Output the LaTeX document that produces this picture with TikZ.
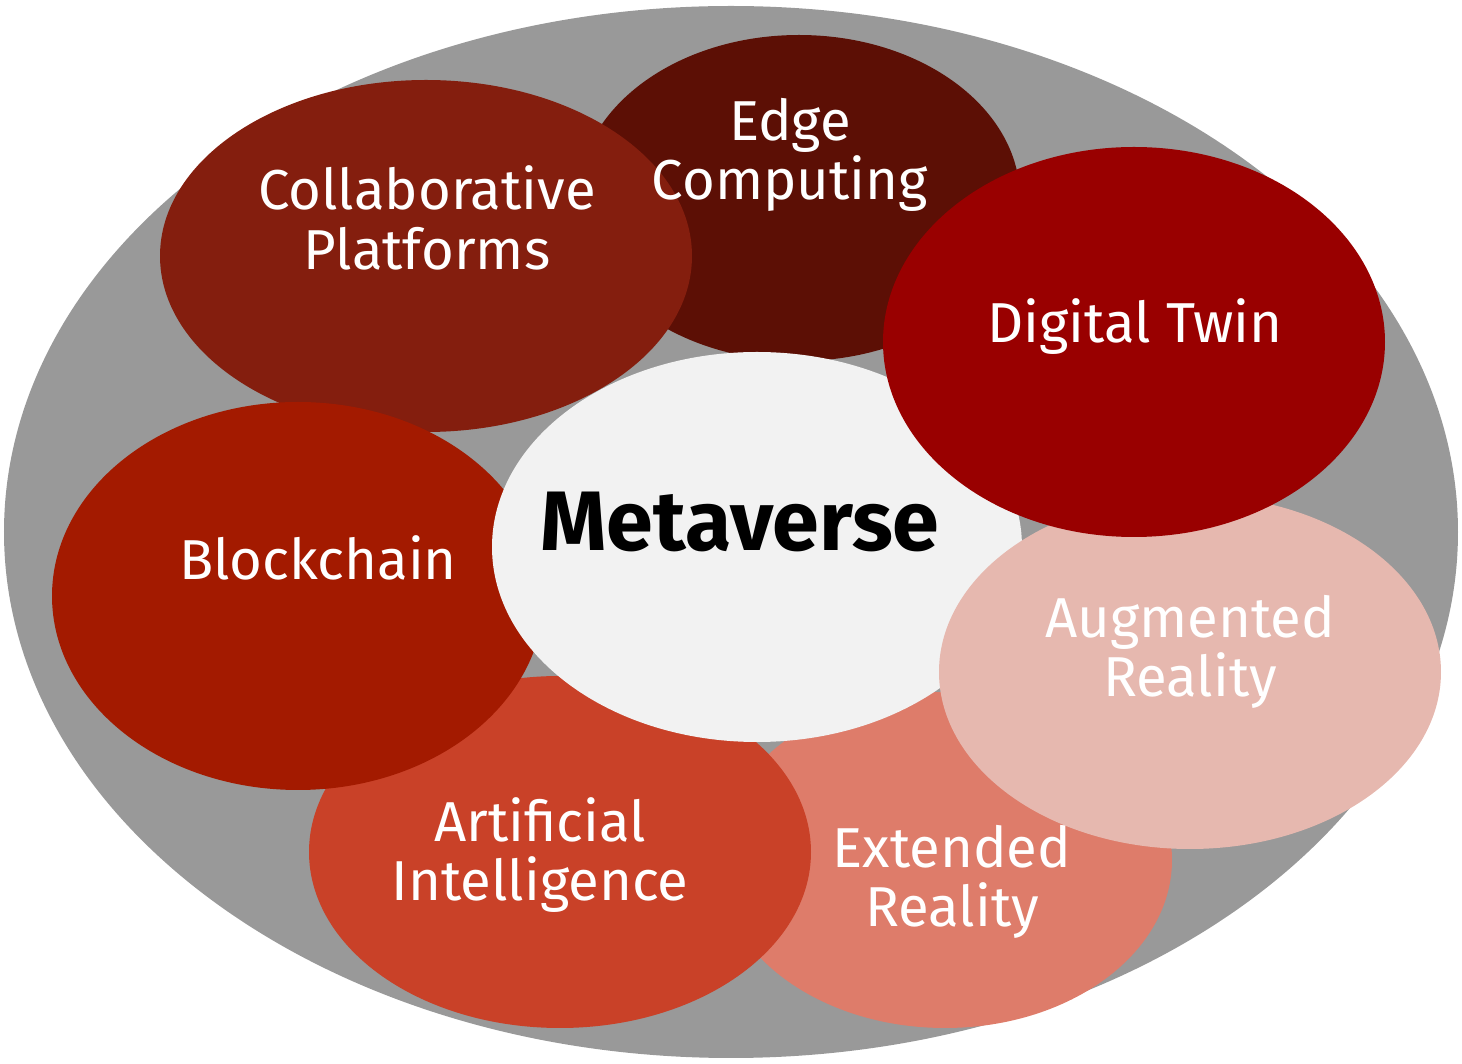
\documentclass[tikz,border=0pt]{standalone}
\usepackage{fontspec}
\setmainfont{Fira Sans}
\begin{document}
\begin{tikzpicture}[x=0.01cm,y=-0.01cm,
  blob/.style={ellipse,draw=none,fill=#1},
  lbl/.style={text=white,font=\fontsize{16}{17}\selectfont,align=center}]
\useasboundingbox (0,0) rectangle (1462,1064);
\fill[gray!80] (731,532) ellipse [x radius=727,y radius=526];
\fill[fill={rgb,255:red,92;green,15;blue,5}] (799,198) ellipse [x radius=221,y radius=163];
\fill[fill={rgb,255:red,132;green,30;blue,14}] (426,256) ellipse [x radius=266,y radius=176];
\fill[fill={rgb,255:red,222;green,124;blue,106}] (945,860) ellipse [x radius=227,y radius=168];
\fill[fill={rgb,255:red,201;green,65;blue,40}] (560,852) ellipse [x radius=251,y radius=176];
\fill[fill={rgb,255:red,163;green,26;blue,0}] (298,596) ellipse [x radius=246,y radius=194];
\fill[fill={rgb,255:red,242;green,242;blue,242}] (757,547) ellipse [x radius=265,y radius=195];
\fill[fill={rgb,255:red,230;green,184;blue,175}] (1190,672) ellipse [x radius=251,y radius=177];
\fill[fill={rgb,255:red,153;green,0;blue,0}] (1134,342) ellipse [x radius=251,y radius=195];
\node[lbl] (edge) at (790,155) {Edge\\Computing};
\node[lbl] (collab) at (427,218) {Collaborative\\Platforms};
\node[lbl] (twin) at (1135,327) {Digital Twin};
\node[font=\fontsize{24}{26}\selectfont\bfseries] (meta) at (740,522) {Metaverse};
\node[lbl] (block) at (318,558) {Blockchain};
\node[lbl] (ai) at (540,855) {Artificial\\Intelligence};
\node[lbl] (xr) at (952,882) {Extended\\Reality};
\node[lbl] (ar) at (1190,652) {Augmented\\Reality};
\end{tikzpicture}
\end{document}
